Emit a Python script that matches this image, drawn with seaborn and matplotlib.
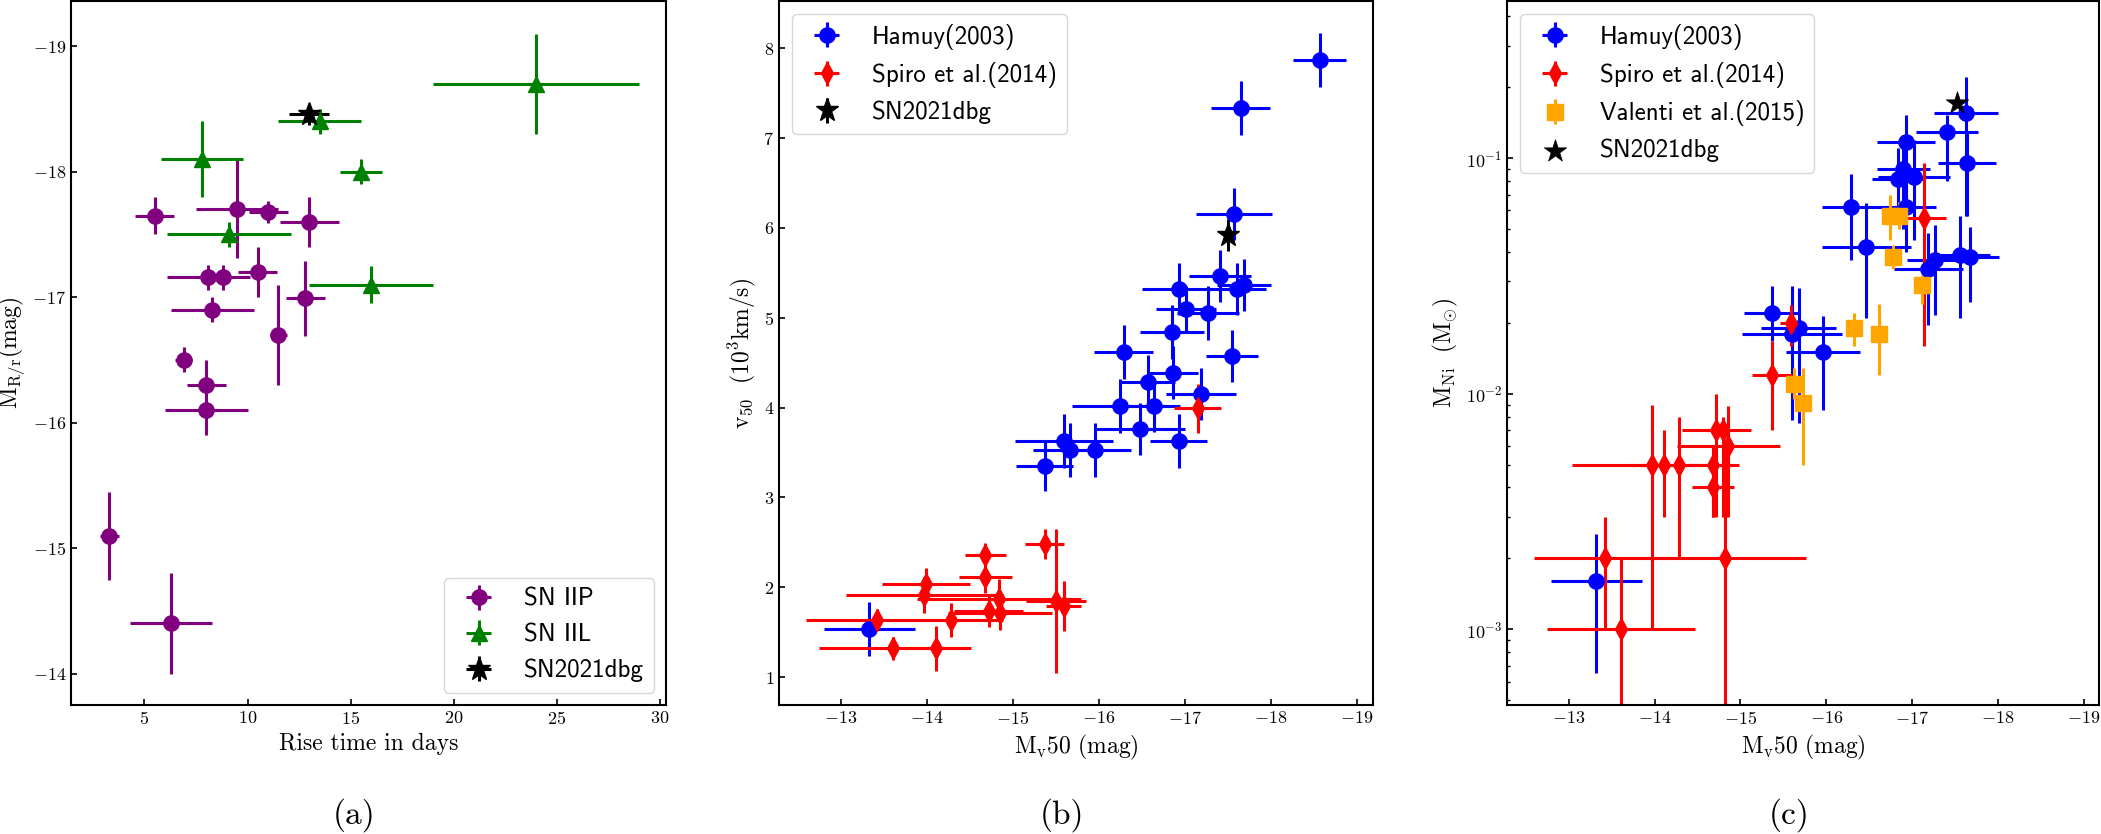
import numpy as np
import matplotlib
matplotlib.use("Agg")
import matplotlib.pyplot as plt
import seaborn as sns

# ---------------- Panel (a): rise time vs peak magnitude ----------------
iip_rise = [5.5, 9.5, 11.0, 13.0, 8.1, 8.8, 10.5, 12.8, 8.3, 11.5, 6.9, 8.0, 8.0, 3.3, 6.3]
iip_rise_err = [0.95, 2.0, 0.95, 1.45, 2.0, 0.5, 0.95, 0.95, 2.0, 0.4, 0.4, 0.95, 2.0, 0.45, 2.0]
iip_mag = [-17.65, -17.70, -17.68, -17.60, -17.16, -17.16, -17.20, -16.99, -16.90, -16.70,
           -16.50, -16.30, -16.10, -15.10, -14.40]
iip_mag_err = [0.15, 0.39, 0.09, 0.2, 0.1, 0.1, 0.2, 0.3, 0.1, 0.4, 0.1, 0.2, 0.2, 0.35, 0.4]

iil_rise = [24.0, 13.5, 7.8, 15.5, 9.1, 16.0]
iil_rise_err = [5.0, 2.0, 2.0, 1.0, 3.0, 3.0]
iil_mag = [-18.7, -18.4, -18.1, -18.0, -17.5, -17.1]
iil_mag_err = [0.4, 0.1, 0.3, 0.1, 0.1, 0.15]

dbg_rise, dbg_rise_err = [13.0], [0.97]
dbg_mag, dbg_mag_err = [-18.46], [0.09]

# ---------------- Panel (b): Mv50 vs v50 ----------------
ham_mv = [-18.57, -17.65, -17.57, -17.41, -16.93, -17.61, -17.69, -17.01, -17.27, -16.85,
          -16.29, -17.55, -16.86, -16.57, -17.19, -16.25, -16.64, -16.48, -16.93, -15.60,
          -15.67, -15.96, -15.37, -13.33]
ham_mv_err = [0.31, 0.34, 0.44, 0.36, 0.43, 0.33, 0.31, 0.35, 0.36, 0.37,
              0.34, 0.30, 0.29, 0.32, 0.41, 0.56, 0.30, 0.52, 0.33, 0.57,
              0.44, 0.42, 0.33, 0.53]
ham_v50 = [7.87, 7.33, 6.15, 5.46, 5.32, 5.32, 5.36, 5.10, 5.05, 4.84,
           4.62, 4.57, 4.39, 4.29, 4.15, 4.02, 4.02, 3.76, 3.63, 3.63,
           3.53, 3.53, 3.35, 1.54]
ham_v50_err = [0.30, 0.30, 0.29, 0.29, 0.29, 0.29, 0.29, 0.25, 0.30, 0.30,
               0.30, 0.29, 0.29, 0.29, 0.29, 0.30, 0.29, 0.29, 0.30, 0.30,
               0.30, 0.30, 0.28, 0.30]

spi_mv = [-17.15, -15.37, -14.68, -14.68, -13.99, -13.97, -14.84, -15.50, -15.59, -14.72,
          -14.85, -13.42, -14.28, -13.61, -14.11]
spi_mv_err = [0.27, 0.23, 0.24, 0.31, 0.51, 0.91, 0.95, 0.35, 0.2, 0.4,
              0.6, 0.83, 0.6, 0.87, 0.4]
spi_v50 = [3.99, 2.48, 2.36, 2.12, 2.04, 1.91, 1.87, 1.85, 1.79, 1.74,
           1.71, 1.64, 1.64, 1.32, 1.32]
spi_v50_err = [0.27, 0.17, 0.13, 0.18, 0.18, 0.2, 0.22, 0.8, 0.28, 0.18,
               0.19, 0.12, 0.19, 0.13, 0.25]

dbg_mv, dbg_v50, dbg_v50_err = [-17.50], [5.92], [0.18]

# ---------------- Panel (c): Mv50 vs M_Ni ----------------
hc_mv = [-17.63, -17.41, -17.64, -16.93, -16.90, -17.02, -16.84, -16.93, -16.29, -16.47,
         -17.56, -17.68, -17.27, -17.19, -15.37, -15.68, -15.60, -15.96, -13.32]
hc_mv_err = [0.37, 0.36, 0.34, 0.34, 0.31, 0.42, 0.30, 0.35, 0.34, 0.52,
             0.35, 0.33, 0.33, 0.40, 0.33, 0.44, 0.58, 0.43, 0.53]
hc_ni = [0.155, 0.129, 0.095, 0.117, 0.090, 0.083, 0.082, 0.062, 0.062, 0.042,
         0.039, 0.038, 0.037, 0.034, 0.022, 0.019, 0.018, 0.015, 0.0016]
hc_ni_lo = [0.057, 0.080, 0.057, 0.053, 0.050, 0.045, 0.055, 0.040, 0.037, 0.021,
            0.021, 0.0245, 0.0215, 0.0195, 0.0168, 0.0075, 0.0077, 0.0085, 0.00065]
hc_ni_hi = [0.221, 0.152, 0.131, 0.152, 0.125, 0.120, 0.110, 0.085, 0.086, 0.0645,
            0.0566, 0.051, 0.052, 0.048, 0.0288, 0.028, 0.0288, 0.0213, 0.00253]

sc_mv = [-17.14, -15.59, -15.37, -14.72, -14.80, -14.86, -13.97, -14.11, -14.28, -14.68,
         -14.68, -13.42, -14.82, -13.61]
sc_mv_err = [0.26, 0.13, 0.23, 0.4, 0.2, 0.6, 0.93, 0.3, 0.6, 0.3,
             0.24, 0.83, 0.95, 0.86]
sc_ni = [0.0557, 0.0199, 0.012, 0.0070, 0.0070, 0.006, 0.005, 0.005, 0.005, 0.005,
         0.004, 0.002, 0.002, 0.001]
sc_ni_lo = [0.016, 0.016, 0.007, 0.003, 0.003, 0.003, 0.001, 0.003, 0.002, 0.003,
            0.003, 0.001, 0.0001, 0.0001]
sc_ni_hi = [0.095, 0.0237, 0.0168, 0.00995, 0.008, 0.0089, 0.009, 0.007, 0.008, 0.006,
            0.0054, 0.003, 0.00605, 0.00198]

va_mv = [-16.74, -16.85, -16.78, -17.12, -16.32, -16.61, -15.63, -15.73]
va_ni = [0.057, 0.057, 0.038, 0.029, 0.019, 0.018, 0.011, 0.0091]
va_ni_lo = [0.045, 0.050, 0.034, 0.024, 0.016, 0.012, 0.0095, 0.005]
va_ni_hi = [0.070, 0.065, 0.043, 0.032, 0.022, 0.024, 0.0128, 0.0129]

dbg_c_mv, dbg_c_ni = [-17.53], [0.171]

# ---------------- style ----------------
sns.set_style("ticks")
plt.rcParams.update({
    "font.family": "serif",
    "font.serif": ["cmr10", "DejaVu Serif"],
    "mathtext.fontset": "cm",
    "axes.formatter.use_mathtext": True,
    "axes.edgecolor": "black",
    "axes.labelcolor": "black",
    "text.color": "black",
    "xtick.color": "black",
    "ytick.color": "black",
    "axes.linewidth": 1.5,
    "xtick.direction": "in",
    "ytick.direction": "in",
    "xtick.major.size": 4,
    "ytick.major.size": 4,
    "ytick.minor.size": 2.5,
    "xtick.major.width": 1.2,
    "ytick.major.width": 1.2,
    "ytick.minor.width": 1.0,
    "xtick.labelsize": 13,
    "ytick.labelsize": 13,
    "axes.labelsize": 17,
})

W, H = 2101, 834
fig = plt.figure(figsize=(W / 100, H / 100), dpi=100)
bot = 1 - 705 / H
hgt = (705 - 1) / H
ax_a = fig.add_axes([71 / W, bot, 595 / W, hgt])
ax_b = fig.add_axes([779 / W, bot, 594 / W, hgt])
ax_c = fig.add_axes([1507 / W, bot, 592 / W, hgt])

eb = dict(linestyle="none", capsize=0, elinewidth=2.2, ms=11)
leg_prop = {"family": ["cmss10", "DejaVu Sans"], "size": 18}
leg_kw = dict(prop=leg_prop, frameon=True, edgecolor="0.8", fancybox=True, framealpha=0.8)

def asym(v, lo, hi):
    v, lo, hi = np.array(v), np.array(lo), np.array(hi)
    return [v - lo, hi - v]

# Panel (a)
ax_a.errorbar(iip_rise, iip_mag, xerr=iip_rise_err, yerr=iip_mag_err, fmt="o",
              color="purple", label="SN IIP", **eb)
ax_a.errorbar(iil_rise, iil_mag, xerr=iil_rise_err, yerr=iil_mag_err, fmt="^",
              color="green", label="SN IIL", **eb)
ax_a.errorbar(dbg_rise, dbg_mag, xerr=dbg_rise_err, yerr=dbg_mag_err, fmt="*",
              color="black", label="SN2021dbg", linestyle="none", capsize=0,
              elinewidth=2.2, ms=17)
ax_a.set_xlim(1.44, 30.29)
ax_a.set_ylim(-13.75, -19.36)
ax_a.set_xticks([5, 10, 15, 20, 25, 30])
ax_a.set_yticks([-14, -15, -16, -17, -18, -19])
ax_a.set_xlabel("Rise time in days")
ax_a.set_ylabel(r"$\mathrm{M_{R/r}(mag)}$")
ax_a.legend(loc="lower right", **leg_kw)

# Panel (b)
ax_b.errorbar(ham_mv, ham_v50, xerr=ham_mv_err, yerr=ham_v50_err, fmt="o",
              color="blue", label="Hamuy(2003)", **eb)
ax_b.errorbar(spi_mv, spi_v50, xerr=spi_mv_err, yerr=spi_v50_err, fmt="d",
              color="red", label="Spiro et al.(2014)", **eb)
ax_b.errorbar(dbg_mv, dbg_v50, yerr=dbg_v50_err, fmt="*", color="black",
              label="SN2021dbg", linestyle="none", capsize=0, elinewidth=2.2, ms=17)
ax_b.set_xlim(-12.28, -19.19)
ax_b.set_ylim(0.69, 8.525)
ax_b.set_xticks([-13, -14, -15, -16, -17, -18, -19])
ax_b.set_yticks([1, 2, 3, 4, 5, 6, 7, 8])
ax_b.set_xlabel(r"$\mathrm{M_v50\ (mag)}$")
ax_b.set_ylabel(r"$\mathrm{v_{50}\ \ (10^3km/s)}$")
ax_b.legend(loc="upper left", **leg_kw)

# Panel (c)
ax_c.errorbar(hc_mv, hc_ni, xerr=hc_mv_err, yerr=asym(hc_ni, hc_ni_lo, hc_ni_hi),
              fmt="o", color="blue", label="Hamuy(2003)", **eb)
ax_c.errorbar(sc_mv, sc_ni, xerr=sc_mv_err, yerr=asym(sc_ni, sc_ni_lo, sc_ni_hi),
              fmt="d", color="red", label="Spiro et al.(2014)", **eb)
ax_c.errorbar(va_mv, va_ni, yerr=asym(va_ni, va_ni_lo, va_ni_hi),
              fmt="s", color="orange", label="Valenti et al.(2015)", **eb)
sns.scatterplot(x=dbg_c_mv, y=dbg_c_ni, marker="*", s=17 ** 2, color="black",
                edgecolor="black", linewidth=0.5, ax=ax_c, label="SN2021dbg", zorder=5)
ax_c.set_yscale("log")
ax_c.set_xlim(-12.28, -19.18)
ax_c.set_ylim(4.77e-4, 0.465)
ax_c.set_xticks([-13, -14, -15, -16, -17, -18, -19])
ax_c.set_xlabel(r"$\mathrm{M_v50\ (mag)}$")
ax_c.set_ylabel(r"$\mathrm{M_{Ni}\ \ (M_{\odot})}$")
hs, ls = ax_c.get_legend_handles_labels()
order = ["Hamuy(2003)", "Spiro et al.(2014)", "Valenti et al.(2015)", "SN2021dbg"]
hd = dict(zip(ls, hs))
ax_c.legend([hd[k] for k in order], order, loc="upper left", **leg_kw)

for ax in (ax_a, ax_b, ax_c):
    ax.tick_params(which="both", top=False, right=False)
    for sp in ax.spines.values():
        sp.set_visible(True)
        sp.set_color("black")

# panel labels
for ax, lab in ((ax_a, "(a)"), (ax_b, "(b)"), (ax_c, "(c)")):
    pos = ax.get_position()
    xc = (pos.x0 + pos.x1) / 2 - 14 / W
    fig.text(xc, 1 - 815 / H, lab, ha="center", va="center", fontsize=24)

fig.savefig("out.png", dpi=100)
